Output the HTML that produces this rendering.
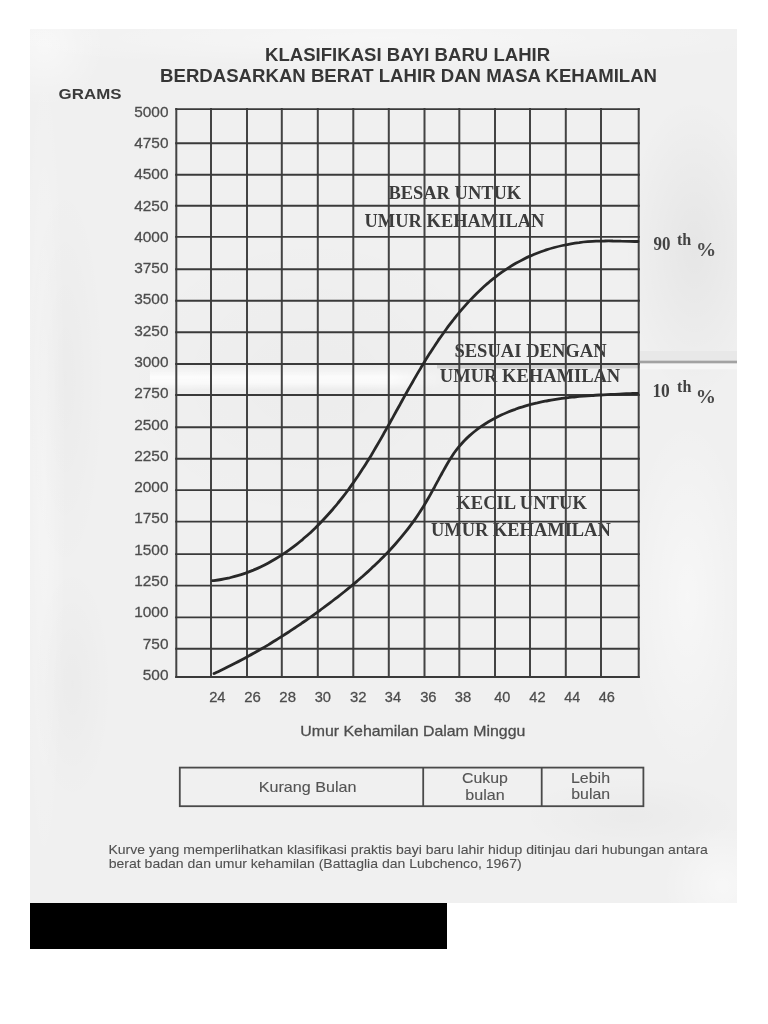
<!DOCTYPE html>
<html><head><meta charset="utf-8"><title>Klasifikasi Bayi Baru Lahir</title>
<style>
html,body{margin:0;padding:0;background:#fff;}
body{width:768px;height:1024px;position:relative;overflow:hidden;}
#paper{position:absolute;left:29.8px;top:28.5px;width:707px;height:874px;background-color:#f0f0f0;background-image:radial-gradient(70px 150px at 94% 25%, rgba(0,0,0,0.045), rgba(0,0,0,0)),radial-gradient(60px 180px at 93% 65%, rgba(255,255,255,0.45), rgba(0,0,0,0)),radial-gradient(110px 40px at 85% 90%, rgba(0,0,0,0.025), rgba(0,0,0,0)),radial-gradient(40px 200px at 5% 40%, rgba(0,0,0,0.02), rgba(0,0,0,0)),radial-gradient(40px 120px at 6% 75%, rgba(0,0,0,0.02), rgba(0,0,0,0)),radial-gradient(420px 30px at 50% 1%, rgba(255,255,255,0.45), rgba(0,0,0,0)),radial-gradient(22px 420px at 2% 50%, rgba(255,255,255,0.35), rgba(0,0,0,0)),radial-gradient(60px 60px at 2% 2%, rgba(255,255,255,0.5), rgba(0,0,0,0)),radial-gradient(60px 60px at 98% 98%, rgba(255,255,255,0.5), rgba(0,0,0,0)),radial-gradient(200px 150px at 40% 40%, rgba(0,0,0,0.015), rgba(0,0,0,0));}
#bar{position:absolute;left:30px;top:902.5px;width:417px;height:46.7px;background:#000;}
svg{position:absolute;left:0;top:0;filter:blur(0.45px);}
</style></head><body>
<div id="paper"></div>
<div id="bar"></div>
<svg width="768" height="1024" viewBox="0 0 768 1024">
<rect x="640" y="351" width="97" height="9" fill="#e8e8e8"/><rect x="640" y="360.6" width="97" height="3.2" fill="#a2a2a2"/><rect x="640" y="363.4" width="97" height="6" fill="#f6f6f6"/><rect x="437" y="364.8" width="203" height="3.6" fill="rgba(0,0,0,0.13)"/><defs><linearGradient id="wb" x1="0" y1="0" x2="0" y2="1"><stop offset="0" stop-color="#fff" stop-opacity="0"/><stop offset="0.45" stop-color="#fff" stop-opacity="0.8"/><stop offset="0.7" stop-color="#fff" stop-opacity="0.7"/><stop offset="1" stop-color="#fff" stop-opacity="0"/></linearGradient><linearGradient id="wbh" x1="0" y1="0" x2="1" y2="0"><stop offset="0" stop-color="#fff" stop-opacity="1"/><stop offset="0.8" stop-color="#fff" stop-opacity="1"/><stop offset="1" stop-color="#fff" stop-opacity="0"/></linearGradient><mask id="wbm"><rect x="150" y="360" width="300" height="40" fill="url(#wbh)"/></mask></defs><rect x="150" y="366" width="300" height="24" fill="url(#wb)" mask="url(#wbm)"/>
<text x="388.39" y="199.40" font-family="'Liberation Serif', 'Times New Roman', serif" font-weight="bold" font-size="18.5" textLength="132.85" lengthAdjust="spacingAndGlyphs" fill="#3c3c3c">BESAR UNTUK</text><text x="364.54" y="226.80" font-family="'Liberation Serif', 'Times New Roman', serif" font-weight="bold" font-size="18.5" textLength="179.90" lengthAdjust="spacingAndGlyphs" fill="#3c3c3c">UMUR KEHAMILAN</text><text x="454.41" y="356.50" font-family="'Liberation Serif', 'Times New Roman', serif" font-weight="bold" font-size="18.5" textLength="152.23" lengthAdjust="spacingAndGlyphs" fill="#3c3c3c">SESUAI DENGAN</text><text x="439.84" y="382.40" font-family="'Liberation Serif', 'Times New Roman', serif" font-weight="bold" font-size="18.5" textLength="180.40" lengthAdjust="spacingAndGlyphs" fill="#3c3c3c">UMUR KEHAMILAN</text><text x="456.39" y="509.10" font-family="'Liberation Serif', 'Times New Roman', serif" font-weight="bold" font-size="18.5" textLength="130.46" lengthAdjust="spacingAndGlyphs" fill="#3c3c3c">KECIL UNTUK</text><text x="431.04" y="536.30" font-family="'Liberation Serif', 'Times New Roman', serif" font-weight="bold" font-size="18.5" textLength="179.70" lengthAdjust="spacingAndGlyphs" fill="#3c3c3c">UMUR KEHAMILAN</text>
<g stroke="#434343" stroke-width="2.0"><line x1="176.3" y1="108.1" x2="176.3" y2="678.0"/><line x1="211.0" y1="108.1" x2="211.0" y2="678.0"/><line x1="247.0" y1="108.1" x2="247.0" y2="678.0"/><line x1="281.8" y1="108.1" x2="281.8" y2="678.0"/><line x1="317.8" y1="108.1" x2="317.8" y2="678.0"/><line x1="353.3" y1="108.1" x2="353.3" y2="678.0"/><line x1="388.8" y1="108.1" x2="388.8" y2="678.0"/><line x1="424.5" y1="108.1" x2="424.5" y2="678.0"/><line x1="459.3" y1="108.1" x2="459.3" y2="678.0"/><line x1="495.0" y1="108.1" x2="495.0" y2="678.0"/><line x1="530.0" y1="108.1" x2="530.0" y2="678.0"/><line x1="565.8" y1="108.1" x2="565.8" y2="678.0"/><line x1="601.0" y1="108.1" x2="601.0" y2="678.0"/><line x1="638.7" y1="108.1" x2="638.7" y2="678.0"/></g><g stroke="#3a3a3a" stroke-width="1.9"><line x1="175.20000000000002" y1="109.1" x2="639.8000000000001" y2="109.1"/><line x1="175.20000000000002" y1="143.2" x2="639.8000000000001" y2="143.2"/><line x1="175.20000000000002" y1="174.7" x2="639.8000000000001" y2="174.7"/><line x1="175.20000000000002" y1="205.8" x2="639.8000000000001" y2="205.8"/><line x1="175.20000000000002" y1="236.9" x2="639.8000000000001" y2="236.9"/><line x1="175.20000000000002" y1="269.2" x2="639.8000000000001" y2="269.2"/><line x1="175.20000000000002" y1="300.7" x2="639.8000000000001" y2="300.7"/><line x1="175.20000000000002" y1="332.3" x2="639.8000000000001" y2="332.3"/><line x1="175.20000000000002" y1="364.0" x2="639.8000000000001" y2="364.0"/><line x1="175.20000000000002" y1="395.0" x2="639.8000000000001" y2="395.0"/><line x1="175.20000000000002" y1="427.3" x2="639.8000000000001" y2="427.3"/><line x1="175.20000000000002" y1="458.7" x2="639.8000000000001" y2="458.7"/><line x1="175.20000000000002" y1="490.1" x2="639.8000000000001" y2="490.1"/><line x1="175.20000000000002" y1="521.6" x2="639.8000000000001" y2="521.6"/><line x1="175.20000000000002" y1="554.1" x2="639.8000000000001" y2="554.1"/><line x1="175.20000000000002" y1="585.6" x2="639.8000000000001" y2="585.6"/><line x1="175.20000000000002" y1="617.4" x2="639.8000000000001" y2="617.4"/><line x1="175.20000000000002" y1="648.8" x2="639.8000000000001" y2="648.8"/><line x1="175.20000000000002" y1="677.0" x2="639.8000000000001" y2="677.0"/></g>
<path d="M212.6,580.7 C214.1,580.5 218.3,580.0 221.2,579.5 C224.0,579.0 226.7,578.4 229.5,577.8 C232.2,577.1 235.0,576.4 237.6,575.6 C240.3,574.9 243.0,574.0 245.6,573.1 C248.2,572.1 250.8,571.1 253.4,570.1 C256.0,569.0 258.5,567.9 261.0,566.7 C263.5,565.5 266.0,564.2 268.4,562.9 C270.9,561.6 273.3,560.2 275.7,558.8 C278.0,557.4 280.4,555.9 282.7,554.4 C285.0,552.9 287.3,551.3 289.6,549.6 C291.8,548.0 294.1,546.3 296.3,544.6 C298.5,542.9 300.6,541.1 302.8,539.3 C304.9,537.5 307.0,535.6 309.1,533.8 C311.2,531.9 313.2,529.9 315.3,528.0 C317.3,526.0 319.3,524.0 321.2,522.0 C323.2,520.0 325.1,517.9 327.0,515.8 C328.9,513.7 330.8,511.6 332.6,509.5 C334.4,507.3 336.3,505.2 338.0,503.0 C339.8,500.8 341.6,498.6 343.3,496.4 C345.0,494.2 346.7,491.9 348.3,489.7 C350.0,487.4 351.6,485.2 353.2,482.9 C354.8,480.6 356.4,478.3 358.0,476.0 C359.5,473.7 361.0,471.4 362.5,469.0 C364.1,466.7 365.5,464.4 367.0,462.0 C368.5,459.7 369.9,457.3 371.4,454.9 C372.8,452.5 374.2,450.2 375.6,447.8 C377.0,445.4 378.4,443.0 379.8,440.6 C381.2,438.2 382.6,435.8 383.9,433.3 C385.3,430.9 386.7,428.5 388.0,426.1 C389.4,423.7 390.7,421.2 392.1,418.8 C393.4,416.4 394.8,413.9 396.1,411.5 C397.5,409.0 398.8,406.6 400.2,404.2 C401.5,401.7 402.9,399.3 404.2,396.8 C405.6,394.4 407.0,391.9 408.3,389.5 C409.7,387.1 411.1,384.6 412.5,382.2 C413.9,379.7 415.3,377.3 416.7,374.9 C418.1,372.4 419.6,370.0 421.0,367.6 C422.5,365.2 423.9,362.8 425.4,360.3 C426.9,357.9 428.4,355.5 429.9,353.1 C431.5,350.8 433.0,348.4 434.6,346.0 C436.1,343.6 437.7,341.3 439.3,338.9 C440.9,336.6 442.6,334.3 444.2,332.0 C445.9,329.7 447.5,327.4 449.2,325.2 C450.9,322.9 452.7,320.7 454.4,318.5 C456.2,316.3 457.9,314.1 459.7,311.9 C461.5,309.8 463.4,307.6 465.2,305.6 C467.1,303.5 469.0,301.4 470.9,299.4 C472.8,297.4 474.7,295.4 476.7,293.4 C478.7,291.5 480.7,289.6 482.7,287.7 C484.8,285.9 486.8,284.0 488.9,282.3 C491.0,280.5 493.2,278.8 495.3,277.1 C497.5,275.4 499.7,273.8 501.9,272.2 C504.2,270.6 506.5,269.1 508.8,267.6 C511.1,266.1 513.4,264.7 515.8,263.3 C518.2,262.0 520.6,260.7 523.1,259.4 C525.5,258.2 528.0,257.0 530.6,255.9 C533.1,254.7 535.7,253.7 538.3,252.7 C540.9,251.7 543.6,250.8 546.2,249.9 C548.9,249.0 551.6,248.2 554.3,247.5 C557.0,246.8 559.8,246.1 562.5,245.5 C565.3,244.9 568.1,244.3 570.9,243.8 C573.6,243.3 576.4,242.9 579.2,242.6 C582.0,242.2 584.8,241.9 587.6,241.7 C590.4,241.5 593.2,241.3 596.0,241.2 C598.8,241.1 601.6,241.0 604.5,241.0 C607.3,240.9 610.1,240.9 612.9,241.0 C615.7,241.0 618.5,241.0 621.2,241.1 C624.0,241.1 626.8,241.2 629.6,241.3 C632.4,241.4 636.6,241.5 638.0,241.5" fill="none" stroke="#282828" stroke-width="2.8" stroke-linecap="round"/><path d="M214.0,673.5 C215.2,672.9 218.7,671.3 221.1,670.2 C223.4,669.1 225.7,668.0 228.0,666.8 C230.4,665.7 232.7,664.5 235.0,663.3 C237.3,662.2 239.6,661.0 241.8,659.8 C244.1,658.6 246.4,657.3 248.6,656.1 C250.9,654.9 253.1,653.6 255.4,652.3 C257.6,651.1 259.8,649.8 262.0,648.5 C264.3,647.2 266.5,645.9 268.7,644.6 C270.9,643.2 273.1,641.9 275.3,640.5 C277.4,639.2 279.6,637.8 281.8,636.4 C283.9,635.1 286.1,633.7 288.3,632.3 C290.4,630.9 292.5,629.4 294.7,628.0 C296.8,626.6 298.9,625.1 301.1,623.7 C303.2,622.2 305.3,620.8 307.4,619.3 C309.5,617.8 311.6,616.3 313.7,614.8 C315.8,613.3 317.9,611.8 320.0,610.3 C322.1,608.8 324.1,607.2 326.2,605.7 C328.3,604.1 330.3,602.6 332.4,601.0 C334.4,599.4 336.5,597.9 338.5,596.3 C340.6,594.7 342.6,593.1 344.6,591.5 C346.6,589.8 348.6,588.2 350.6,586.6 C352.6,584.9 354.6,583.3 356.6,581.6 C358.6,579.9 360.5,578.2 362.5,576.5 C364.4,574.8 366.3,573.1 368.2,571.4 C370.1,569.6 372.0,567.9 373.9,566.1 C375.8,564.4 377.6,562.6 379.5,560.8 C381.3,559.0 383.1,557.1 384.9,555.3 C386.7,553.5 388.5,551.6 390.2,549.7 C392.0,547.8 393.7,545.9 395.4,544.0 C397.1,542.1 398.8,540.1 400.4,538.2 C402.1,536.2 403.7,534.2 405.3,532.2 C406.9,530.2 408.5,528.2 410.0,526.1 C411.6,524.1 413.1,522.0 414.6,519.9 C416.1,517.8 417.5,515.7 418.9,513.5 C420.4,511.4 421.7,509.2 423.1,507.0 C424.5,504.8 425.8,502.6 427.1,500.3 C428.4,498.1 429.7,495.8 430.9,493.6 C432.2,491.3 433.4,489.0 434.7,486.7 C435.9,484.4 437.1,482.1 438.4,479.9 C439.6,477.6 440.9,475.3 442.1,473.0 C443.4,470.7 444.6,468.4 445.9,466.2 C447.2,463.9 448.5,461.7 449.9,459.5 C451.3,457.3 452.7,455.1 454.1,453.0 C455.6,451.0 457.2,448.9 458.8,446.9 C460.4,445.0 462.1,443.1 463.8,441.2 C465.6,439.4 467.4,437.6 469.3,435.9 C471.2,434.2 473.1,432.5 475.1,431.0 C477.1,429.4 479.2,427.9 481.3,426.4 C483.4,425.0 485.5,423.6 487.7,422.3 C489.9,420.9 492.1,419.7 494.4,418.5 C496.6,417.3 498.9,416.2 501.2,415.1 C503.5,414.0 505.8,413.0 508.2,412.0 C510.5,411.0 512.9,410.1 515.3,409.3 C517.7,408.4 520.1,407.6 522.6,406.9 C525.0,406.1 527.5,405.4 530.0,404.7 C532.4,404.1 534.9,403.4 537.4,402.9 C539.9,402.3 542.5,401.7 545.0,401.2 C547.5,400.7 550.1,400.3 552.6,399.8 C555.2,399.4 557.8,399.0 560.3,398.6 C562.9,398.3 565.5,397.9 568.1,397.6 C570.7,397.3 573.3,397.1 575.9,396.8 C578.5,396.5 581.1,396.3 583.7,396.1 C586.3,395.9 588.9,395.7 591.5,395.5 C594.1,395.3 596.7,395.2 599.3,395.0 C601.9,394.9 604.5,394.7 607.0,394.6 C609.6,394.5 612.2,394.4 614.8,394.3 C617.4,394.2 619.9,394.1 622.5,393.9 C625.0,393.8 627.6,393.7 630.1,393.6 C632.7,393.5 636.4,393.4 637.7,393.3" fill="none" stroke="#282828" stroke-width="2.8" stroke-linecap="round"/>
<g stroke="#4a4a4a" stroke-width="1.8" fill="none"><rect x="179.8" y="767.6" width="463.59999999999997" height="38.60000000000002"/><line x1="423.2" y1="767.6" x2="423.2" y2="806.2"/><line x1="541.7" y1="767.6" x2="541.7" y2="806.2"/></g>
<text x="265.07" y="61.00" font-family="'Liberation Sans', Arial, sans-serif" font-weight="bold" font-size="18" textLength="285.11" lengthAdjust="spacingAndGlyphs" fill="#363636">KLASIFIKASI BAYI BARU LAHIR</text><text x="160.06" y="82.40" font-family="'Liberation Sans', Arial, sans-serif" font-weight="bold" font-size="18" textLength="496.99" lengthAdjust="spacingAndGlyphs" fill="#363636">BERDASARKAN BERAT LAHIR DAN MASA KEHAMILAN</text><text x="58.61" y="98.80" font-family="'Liberation Sans', Arial, sans-serif" font-weight="bold" font-size="15.5" textLength="62.85" lengthAdjust="spacingAndGlyphs" fill="#3a3a3a">GRAMS</text><text x="134.24" y="116.80" font-family="'Liberation Sans', Arial, sans-serif" font-size="15.4" textLength="34.26" lengthAdjust="spacingAndGlyphs" fill="#4c4c4c" stroke="#4c4c4c" stroke-width="0.28">5000</text><text x="134.24" y="148.08" font-family="'Liberation Sans', Arial, sans-serif" font-size="15.4" textLength="34.26" lengthAdjust="spacingAndGlyphs" fill="#4c4c4c" stroke="#4c4c4c" stroke-width="0.28">4750</text><text x="134.24" y="179.36" font-family="'Liberation Sans', Arial, sans-serif" font-size="15.4" textLength="34.26" lengthAdjust="spacingAndGlyphs" fill="#4c4c4c" stroke="#4c4c4c" stroke-width="0.28">4500</text><text x="134.24" y="210.64" font-family="'Liberation Sans', Arial, sans-serif" font-size="15.4" textLength="34.26" lengthAdjust="spacingAndGlyphs" fill="#4c4c4c" stroke="#4c4c4c" stroke-width="0.28">4250</text><text x="134.24" y="241.92" font-family="'Liberation Sans', Arial, sans-serif" font-size="15.4" textLength="34.26" lengthAdjust="spacingAndGlyphs" fill="#4c4c4c" stroke="#4c4c4c" stroke-width="0.28">4000</text><text x="134.24" y="273.20" font-family="'Liberation Sans', Arial, sans-serif" font-size="15.4" textLength="34.26" lengthAdjust="spacingAndGlyphs" fill="#4c4c4c" stroke="#4c4c4c" stroke-width="0.28">3750</text><text x="134.24" y="304.48" font-family="'Liberation Sans', Arial, sans-serif" font-size="15.4" textLength="34.26" lengthAdjust="spacingAndGlyphs" fill="#4c4c4c" stroke="#4c4c4c" stroke-width="0.28">3500</text><text x="134.24" y="335.76" font-family="'Liberation Sans', Arial, sans-serif" font-size="15.4" textLength="34.26" lengthAdjust="spacingAndGlyphs" fill="#4c4c4c" stroke="#4c4c4c" stroke-width="0.28">3250</text><text x="134.24" y="367.04" font-family="'Liberation Sans', Arial, sans-serif" font-size="15.4" textLength="34.26" lengthAdjust="spacingAndGlyphs" fill="#4c4c4c" stroke="#4c4c4c" stroke-width="0.28">3000</text><text x="134.24" y="398.32" font-family="'Liberation Sans', Arial, sans-serif" font-size="15.4" textLength="34.26" lengthAdjust="spacingAndGlyphs" fill="#4c4c4c" stroke="#4c4c4c" stroke-width="0.28">2750</text><text x="134.24" y="429.60" font-family="'Liberation Sans', Arial, sans-serif" font-size="15.4" textLength="34.26" lengthAdjust="spacingAndGlyphs" fill="#4c4c4c" stroke="#4c4c4c" stroke-width="0.28">2500</text><text x="134.24" y="460.88" font-family="'Liberation Sans', Arial, sans-serif" font-size="15.4" textLength="34.26" lengthAdjust="spacingAndGlyphs" fill="#4c4c4c" stroke="#4c4c4c" stroke-width="0.28">2250</text><text x="134.24" y="492.16" font-family="'Liberation Sans', Arial, sans-serif" font-size="15.4" textLength="34.26" lengthAdjust="spacingAndGlyphs" fill="#4c4c4c" stroke="#4c4c4c" stroke-width="0.28">2000</text><text x="134.24" y="523.44" font-family="'Liberation Sans', Arial, sans-serif" font-size="15.4" textLength="34.26" lengthAdjust="spacingAndGlyphs" fill="#4c4c4c" stroke="#4c4c4c" stroke-width="0.28">1750</text><text x="134.24" y="554.72" font-family="'Liberation Sans', Arial, sans-serif" font-size="15.4" textLength="34.26" lengthAdjust="spacingAndGlyphs" fill="#4c4c4c" stroke="#4c4c4c" stroke-width="0.28">1500</text><text x="134.24" y="586.00" font-family="'Liberation Sans', Arial, sans-serif" font-size="15.4" textLength="34.26" lengthAdjust="spacingAndGlyphs" fill="#4c4c4c" stroke="#4c4c4c" stroke-width="0.28">1250</text><text x="134.24" y="617.28" font-family="'Liberation Sans', Arial, sans-serif" font-size="15.4" textLength="34.26" lengthAdjust="spacingAndGlyphs" fill="#4c4c4c" stroke="#4c4c4c" stroke-width="0.28">1000</text><text x="142.81" y="648.56" font-family="'Liberation Sans', Arial, sans-serif" font-size="15.4" textLength="25.69" lengthAdjust="spacingAndGlyphs" fill="#4c4c4c" stroke="#4c4c4c" stroke-width="0.28">750</text><text x="142.81" y="679.84" font-family="'Liberation Sans', Arial, sans-serif" font-size="15.4" textLength="25.69" lengthAdjust="spacingAndGlyphs" fill="#4c4c4c" stroke="#4c4c4c" stroke-width="0.28">500</text><text x="209.16" y="702.10" font-family="'Liberation Sans', Arial, sans-serif" font-size="14.8" textLength="16.37" lengthAdjust="spacingAndGlyphs" fill="#4c4c4c" stroke="#4c4c4c" stroke-width="0.28">24</text><text x="244.25" y="702.10" font-family="'Liberation Sans', Arial, sans-serif" font-size="14.8" textLength="16.61" lengthAdjust="spacingAndGlyphs" fill="#4c4c4c" stroke="#4c4c4c" stroke-width="0.28">26</text><text x="279.35" y="702.10" font-family="'Liberation Sans', Arial, sans-serif" font-size="14.8" textLength="16.60" lengthAdjust="spacingAndGlyphs" fill="#4c4c4c" stroke="#4c4c4c" stroke-width="0.28">28</text><text x="314.64" y="702.10" font-family="'Liberation Sans', Arial, sans-serif" font-size="14.8" textLength="16.33" lengthAdjust="spacingAndGlyphs" fill="#4c4c4c" stroke="#4c4c4c" stroke-width="0.28">30</text><text x="349.93" y="702.10" font-family="'Liberation Sans', Arial, sans-serif" font-size="14.8" textLength="16.51" lengthAdjust="spacingAndGlyphs" fill="#4c4c4c" stroke="#4c4c4c" stroke-width="0.28">32</text><text x="384.85" y="702.10" font-family="'Liberation Sans', Arial, sans-serif" font-size="14.8" textLength="16.18" lengthAdjust="spacingAndGlyphs" fill="#4c4c4c" stroke="#4c4c4c" stroke-width="0.28">34</text><text x="420.14" y="702.10" font-family="'Liberation Sans', Arial, sans-serif" font-size="14.8" textLength="16.41" lengthAdjust="spacingAndGlyphs" fill="#4c4c4c" stroke="#4c4c4c" stroke-width="0.28">36</text><text x="454.84" y="702.10" font-family="'Liberation Sans', Arial, sans-serif" font-size="14.8" textLength="16.40" lengthAdjust="spacingAndGlyphs" fill="#4c4c4c" stroke="#4c4c4c" stroke-width="0.28">38</text><text x="494.17" y="702.10" font-family="'Liberation Sans', Arial, sans-serif" font-size="14.8" textLength="16.10" lengthAdjust="spacingAndGlyphs" fill="#4c4c4c" stroke="#4c4c4c" stroke-width="0.28">40</text><text x="529.26" y="702.10" font-family="'Liberation Sans', Arial, sans-serif" font-size="14.8" textLength="16.27" lengthAdjust="spacingAndGlyphs" fill="#4c4c4c" stroke="#4c4c4c" stroke-width="0.28">42</text><text x="564.17" y="702.10" font-family="'Liberation Sans', Arial, sans-serif" font-size="14.8" textLength="15.95" lengthAdjust="spacingAndGlyphs" fill="#4c4c4c" stroke="#4c4c4c" stroke-width="0.28">44</text><text x="598.67" y="702.10" font-family="'Liberation Sans', Arial, sans-serif" font-size="14.8" textLength="16.17" lengthAdjust="spacingAndGlyphs" fill="#4c4c4c" stroke="#4c4c4c" stroke-width="0.28">46</text><text x="300.27" y="736.20" font-family="'Liberation Sans', Arial, sans-serif" font-size="15" textLength="225.08" lengthAdjust="spacingAndGlyphs" fill="#4c4c4c" stroke="#4c4c4c" stroke-width="0.28">Umur Kehamilan Dalam Minggu</text><text x="258.68" y="792.30" font-family="'Liberation Sans', Arial, sans-serif" font-size="15" textLength="97.77" lengthAdjust="spacingAndGlyphs" fill="#545454" stroke="#545454" stroke-width="0.12">Kurang Bulan</text><text x="462.09" y="782.60" font-family="'Liberation Sans', Arial, sans-serif" font-size="14.5" textLength="45.87" lengthAdjust="spacingAndGlyphs" fill="#545454" stroke="#545454" stroke-width="0.12">Cukup</text><text x="465.37" y="799.70" font-family="'Liberation Sans', Arial, sans-serif" font-size="14.5" textLength="39.28" lengthAdjust="spacingAndGlyphs" fill="#545454" stroke="#545454" stroke-width="0.12">bulan</text><text x="570.99" y="782.60" font-family="'Liberation Sans', Arial, sans-serif" font-size="14.5" textLength="39.05" lengthAdjust="spacingAndGlyphs" fill="#545454" stroke="#545454" stroke-width="0.12">Lebih</text><text x="571.28" y="799.30" font-family="'Liberation Sans', Arial, sans-serif" font-size="14.5" textLength="38.75" lengthAdjust="spacingAndGlyphs" fill="#545454" stroke="#545454" stroke-width="0.12">bulan</text><text x="108.45" y="854.20" font-family="'Liberation Sans', Arial, sans-serif" font-size="13.6" textLength="599.45" lengthAdjust="spacingAndGlyphs" fill="#505050" stroke="#505050" stroke-width="0.1">Kurve yang memperlihatkan klasifikasi praktis bayi baru lahir hidup ditinjau dari hubungan antara</text><text x="108.69" y="868.20" font-family="'Liberation Sans', Arial, sans-serif" font-size="13.6" textLength="412.98" lengthAdjust="spacingAndGlyphs" fill="#505050" stroke="#505050" stroke-width="0.1">berat badan dan umur kehamilan (Battaglia dan Lubchenco, 1967)</text><text x="653.44" y="250.00" font-family="'Liberation Serif', 'Times New Roman', serif" font-weight="bold" font-size="18.5" textLength="16.91" lengthAdjust="spacingAndGlyphs" fill="#424242">90</text><text x="676.94" y="244.80" font-family="'Liberation Serif', 'Times New Roman', serif" font-weight="bold" font-size="16" textLength="14.30" lengthAdjust="spacingAndGlyphs" fill="#424242">th</text><text x="696.13" y="255.80" font-family="'Liberation Serif', 'Times New Roman', serif" font-weight="bold" font-size="19" textLength="20.16" lengthAdjust="spacingAndGlyphs" fill="#4c4c4c">%</text><text x="652.40" y="397.00" font-family="'Liberation Serif', 'Times New Roman', serif" font-weight="bold" font-size="19.5" textLength="17.46" lengthAdjust="spacingAndGlyphs" fill="#404040">10</text><text x="677.14" y="392.20" font-family="'Liberation Serif', 'Times New Roman', serif" font-weight="bold" font-size="16" textLength="14.30" lengthAdjust="spacingAndGlyphs" fill="#404040">th</text><text x="695.73" y="402.50" font-family="'Liberation Serif', 'Times New Roman', serif" font-weight="bold" font-size="19.5" textLength="20.16" lengthAdjust="spacingAndGlyphs" fill="#4a4a4a">%</text>
</svg>
</body></html>
